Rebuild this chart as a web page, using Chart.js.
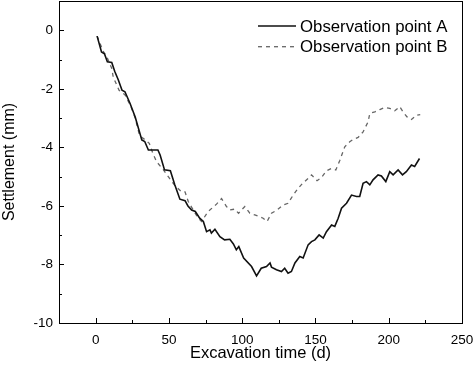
<!DOCTYPE html>
<html>
<head>
<meta charset="utf-8">
<script src="https://cdn.jsdelivr.net/npm/chart.js@4.4.1/dist/chart.umd.min.js"></script>
<style>
  html, body { margin: 0; padding: 0; background: #fff; }
  canvas { display: block; }
</style>
</head>
<body>
<canvas id="settleChart" width="474" height="371"></canvas>
<script>
// Punto di osservazione A (linea continua)
const daysA = [1, 4, 6, 8, 11, 13, 15.5, 18, 20, 23.5, 27, 31.5, 33.5, 36, 42.5, 44, 47, 51, 54, 57.5,
    61, 63, 65.5, 68, 71, 73.5, 75.7, 78, 79, 81.4, 84.8, 88, 91.6, 94, 96, 97.7, 101, 106.4, 109.8, 113,
    116.6, 119, 120, 123.4, 126.8, 129, 131.3, 133.6, 136, 139.3, 141.6, 145, 147.3, 149.6, 152.5, 155.3,
    157.5, 161, 163.2, 165.5, 167.8, 171.2, 174.6, 178, 180.2, 182.5, 184.8, 187.1, 189.3, 192.7, 195,
    198, 200.7, 203, 206.4, 209.4, 212, 215.5, 217.7, 221];
const settleA = [-0.2, -0.74, -0.8, -1.08, -1.1, -1.4, -1.7, -2.05, -2.1, -2.5, -2.96, -3.75, -3.8, -4.09,
    -4.09, -4.26, -4.77, -4.8, -5.28, -5.77, -5.82, -6.0, -6.14, -6.19, -6.42, -6.53, -6.88, -6.82, -6.93,
    -6.8, -7.05, -7.16, -7.14, -7.3, -7.5, -7.39, -7.78, -8.07, -8.39, -8.13, -8.07, -7.95, -8.09, -8.18,
    -8.24, -8.13, -8.3, -8.24, -7.95, -7.73, -7.78, -7.33, -7.22, -7.16, -6.99, -7.1, -6.88, -6.65, -6.7,
    -6.42, -6.08, -5.91, -5.63, -5.68, -5.68, -5.23, -5.17, -5.28, -5.11, -4.94, -4.98, -5.17, -4.83,
    -4.94, -4.77, -4.94, -4.83, -4.6, -4.65, -4.38];

// Punto di osservazione B (linea tratteggiata)
const daysB = [1, 5, 8, 11, 12, 16, 20, 24, 27, 30, 34, 36.6, 39, 41.6, 46, 50.7, 54, 58.6, 61, 63.2,
    66.6, 70, 72.3, 76.8, 80, 82.5, 85.9, 89.3, 91.6, 94.9, 97.5, 101.8, 105.2, 108.6, 111.6, 114.3, 117,
    120, 123.8, 127.9, 131.3, 134.8, 138.2, 141.2, 145, 147.3, 151.1, 154.1, 157.5, 160.9, 163.9, 166.6,
    170, 173.4, 175.7, 179.1, 182.5, 185.9, 187.1, 190.5, 193.9, 197.3, 200.7, 204.1, 207.5, 209.8,
    212.5, 215.5, 218.9, 221.5];
const settleB = [-0.2, -0.7, -0.95, -1.3, -1.6, -2.05, -2.2, -2.6, -3.0, -3.6, -3.75, -3.86, -4.2, -4.49,
    -4.75, -5.08, -5.3, -5.52, -5.52, -5.85, -6.14, -6.42, -6.53, -6.19, -6.05, -5.94, -5.75, -6.02, -6.14,
    -6.11, -6.25, -6.02, -6.25, -6.31, -6.36, -6.42, -6.53, -6.25, -6.14, -5.97, -5.91, -5.63, -5.4, -5.23,
    -5.06, -4.94, -5.14, -5.03, -4.8, -4.72, -4.77, -4.45, -3.98, -3.81, -3.73, -3.66, -3.47, -3.13, -2.84,
    -2.79, -2.71, -2.64, -2.67, -2.75, -2.61, -2.79, -2.96, -3.05, -2.9, -2.88];

// Tacche degli assi
const xTicks = [0, 50, 100, 150, 200, 250];
const xMinorTicks = [-25, 25, 75, 125, 175, 225];
const yTicks = [0, -2, -4, -6, -8, -10];
const yMinorTicks = [-1, -3, -5, -7, -9];

const FONT = '"Liberation Sans", Arial, sans-serif';

function toPoints(xs, ys) {
    return xs.map((x, i) => ({ x: x, y: ys[i] }));
}

// Cornice, tacche interne e legenda dentro l'area del grafico
const framePlugin = {
    id: 'frame',
    afterDraw(chart) {
        const ctx = chart.ctx;
        const a = chart.chartArea;
        const xs = chart.scales.x, ys = chart.scales.y;
        ctx.save();
        ctx.strokeStyle = '#000';
        ctx.lineWidth = 1;
        ctx.strokeRect(Math.round(a.left) + 0.5, Math.round(a.top) + 0.5,
            Math.round(a.right - a.left), Math.round(a.bottom - a.top));

        ctx.beginPath();
        xTicks.forEach(v => {
            const px = Math.round(xs.getPixelForValue(v)) + 0.5;
            ctx.moveTo(px, a.bottom); ctx.lineTo(px, a.bottom - 5);
        });
        xMinorTicks.forEach(v => {
            const px = Math.round(xs.getPixelForValue(v)) + 0.5;
            ctx.moveTo(px, a.bottom); ctx.lineTo(px, a.bottom - 3);
        });
        yTicks.forEach(v => {
            const py = Math.round(ys.getPixelForValue(v)) + 0.5;
            ctx.moveTo(a.left, py); ctx.lineTo(a.left + 5, py);
        });
        yMinorTicks.forEach(v => {
            const py = Math.round(ys.getPixelForValue(v)) + 0.5;
            ctx.moveTo(a.left, py); ctx.lineTo(a.left + 3, py);
        });
        ctx.stroke();

        // legenda
        ctx.font = '16.8px ' + FONT;
        ctx.textBaseline = 'middle';
        ctx.textAlign = 'left';
        chart.data.datasets.forEach((ds, i) => {
            const y = 26 + i * 20.7;
            ctx.beginPath();
            ctx.strokeStyle = ds.borderColor;
            ctx.lineWidth = ds.borderWidth;
            ctx.setLineDash(ds.borderDash || []);
            ctx.moveTo(258, y); ctx.lineTo(296, y);
            ctx.stroke();
            ctx.setLineDash([]);
            ctx.fillStyle = '#000';
            ctx.fillText(ds.label, 300, y + 1);
        });
        ctx.restore();
    }
};

new Chart(document.getElementById('settleChart'), {
    type: 'line',
    data: {
        datasets: [
            {
                label: 'Observation point A',
                data: toPoints(daysA, settleA),
                borderColor: '#111',
                borderWidth: 1.6,
                pointRadius: 0,
                tension: 0
            },
            {
                label: 'Observation point B',
                data: toPoints(daysB, settleB),
                borderColor: '#666',
                borderWidth: 1.3,
                borderDash: [4, 4],
                pointRadius: 0,
                tension: 0
            }
        ]
    },
    options: {
        responsive: false,
        animation: false,
        layout: { padding: { top: 1, right: 12, left: 0, bottom: 0 } },
        plugins: {
            legend: { display: false },
            tooltip: { enabled: false }
        },
        scales: {
            x: {
                type: 'linear',
                min: -25,
                max: 250,
                afterBuildTicks: s => { s.ticks = xTicks.map(v => ({ value: v })); },
                afterFit: s => { s.height = 48; s.paddingLeft = 0; s.paddingRight = 0; },
                grid: { display: false, drawTicks: false },
                border: { display: false },
                ticks: { color: '#000', padding: 9, maxRotation: 0, font: { family: FONT, size: 13.5 } },
                title: {
                    display: true,
                    text: 'Excavation time (d)',
                    color: '#000',
                    padding: { top: 0, bottom: 8 },
                    font: { family: FONT, size: 16.5 }
                }
            },
            y: {
                min: -10,
                max: 1,
                afterBuildTicks: s => { s.ticks = yTicks.map(v => ({ value: v })); },
                afterFit: s => { s.width = 59; s.paddingTop = 0; s.paddingBottom = 0; },
                grid: { display: false, drawTicks: false },
                border: { display: false },
                ticks: { color: '#000', padding: 6, font: { family: FONT, size: 13.5 } },
                title: {
                    display: true,
                    text: 'Settlement (mm)',
                    color: '#000',
                    padding: { top: 0, bottom: 0 },
                    font: { family: FONT, size: 16 }
                }
            }
        }
    },
    plugins: [framePlugin]
});
</script>
</body>
</html>
